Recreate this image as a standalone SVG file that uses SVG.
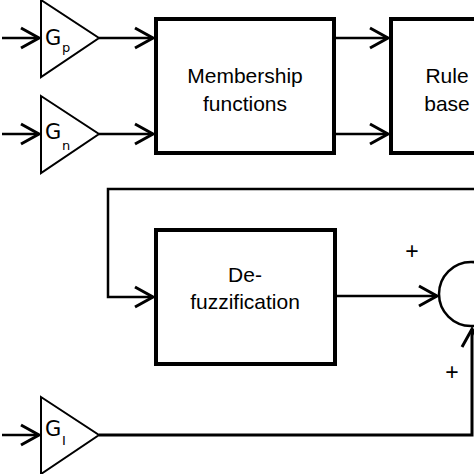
<svg xmlns="http://www.w3.org/2000/svg" width="474" height="474" viewBox="0 0 474 474">
<style>
.box{fill:#fff;stroke:#000;stroke-width:4}
.tri{fill:#fff;stroke:#000;stroke-width:2}
.ln{fill:none;stroke:#000;stroke-width:2.5}
.lbl{font-family:"Liberation Sans",Arial,sans-serif;font-size:21px;fill:#000;text-anchor:middle}
.g{font-family:"DejaVu Sans",sans-serif;font-size:21px;fill:#000}
.sub{font-family:"DejaVu Sans",sans-serif;font-size:13px;fill:#000}
.pm{font-family:"Liberation Sans",Arial,sans-serif;font-size:23px;fill:#000;text-anchor:middle}
</style>
<defs>
<marker id="ar" markerUnits="userSpaceOnUse" markerWidth="30" markerHeight="30" viewBox="-22 -15 30 30" refX="0" refY="0" orient="auto" overflow="visible">
<path d="M-18,-10 L0,0 L-18,10" fill="none" stroke="#000" stroke-width="3"/>
</marker>
</defs>
<g id="connectors">
<line class="ln" x1="2" y1="38" x2="39" y2="38" marker-end="url(#ar)"/>
<line class="ln" x1="2" y1="134" x2="39" y2="134" marker-end="url(#ar)"/>
<line class="ln" x1="2" y1="435" x2="39" y2="435" marker-end="url(#ar)"/>
<line class="ln" x1="99" y1="38" x2="153" y2="38" marker-end="url(#ar)"/>
<line class="ln" x1="99" y1="134" x2="153" y2="134" marker-end="url(#ar)"/>
<line class="ln" x1="336" y1="38" x2="388" y2="38" marker-end="url(#ar)"/>
<line class="ln" x1="336" y1="134" x2="388" y2="134" marker-end="url(#ar)"/>
<polyline class="ln" points="476,189 108,189 108,297 153,297" marker-end="url(#ar)"/>
<line class="ln" x1="337" y1="296" x2="437" y2="296" marker-end="url(#ar)"/>
<polyline class="ln" points="99,435 472,435 472,329" style="stroke-width:3" marker-end="url(#ar)"/>
</g>
<g id="gain-p">
<polygon class="tri" points="41,0 99,38 41,77"/>
<text class="g" x="45" y="45">G</text><text class="sub" x="62" y="52">p</text>
</g>
<g id="gain-n">
<polygon class="tri" points="41,96 99,134 41,173"/>
<text class="g" x="45" y="139">G</text><text class="sub" x="62" y="150">n</text>
</g>
<g id="gain-i">
<polygon class="tri" points="41,397 99,435 41,474"/>
<text class="g" x="45" y="436">G</text><text class="sub" x="62" y="445">I</text>
</g>
<g id="membership">
<rect class="box" x="156" y="19" width="178" height="134"/>
<text class="lbl" x="245" y="83">Membership</text>
<text class="lbl" x="245" y="111">functions</text>
</g>
<g id="rulebase">
<rect class="box" x="391" y="19" width="100" height="134"/>
<text class="lbl" x="447" y="83">Rule</text>
<text class="lbl" x="447" y="111">base</text>
</g>
<g id="defuzzification">
<rect class="box" x="156" y="230" width="179" height="134"/>
<text class="lbl" x="245" y="282">De-</text>
<text class="lbl" x="245" y="309">fuzzification</text>
</g>
<g id="sum">
<circle cx="471" cy="294" r="32" fill="#fff" stroke="#000" stroke-width="2.5"/>
<text class="pm" x="412" y="259">+</text>
<text class="pm" x="452" y="380">+</text>
</g>
</svg>
